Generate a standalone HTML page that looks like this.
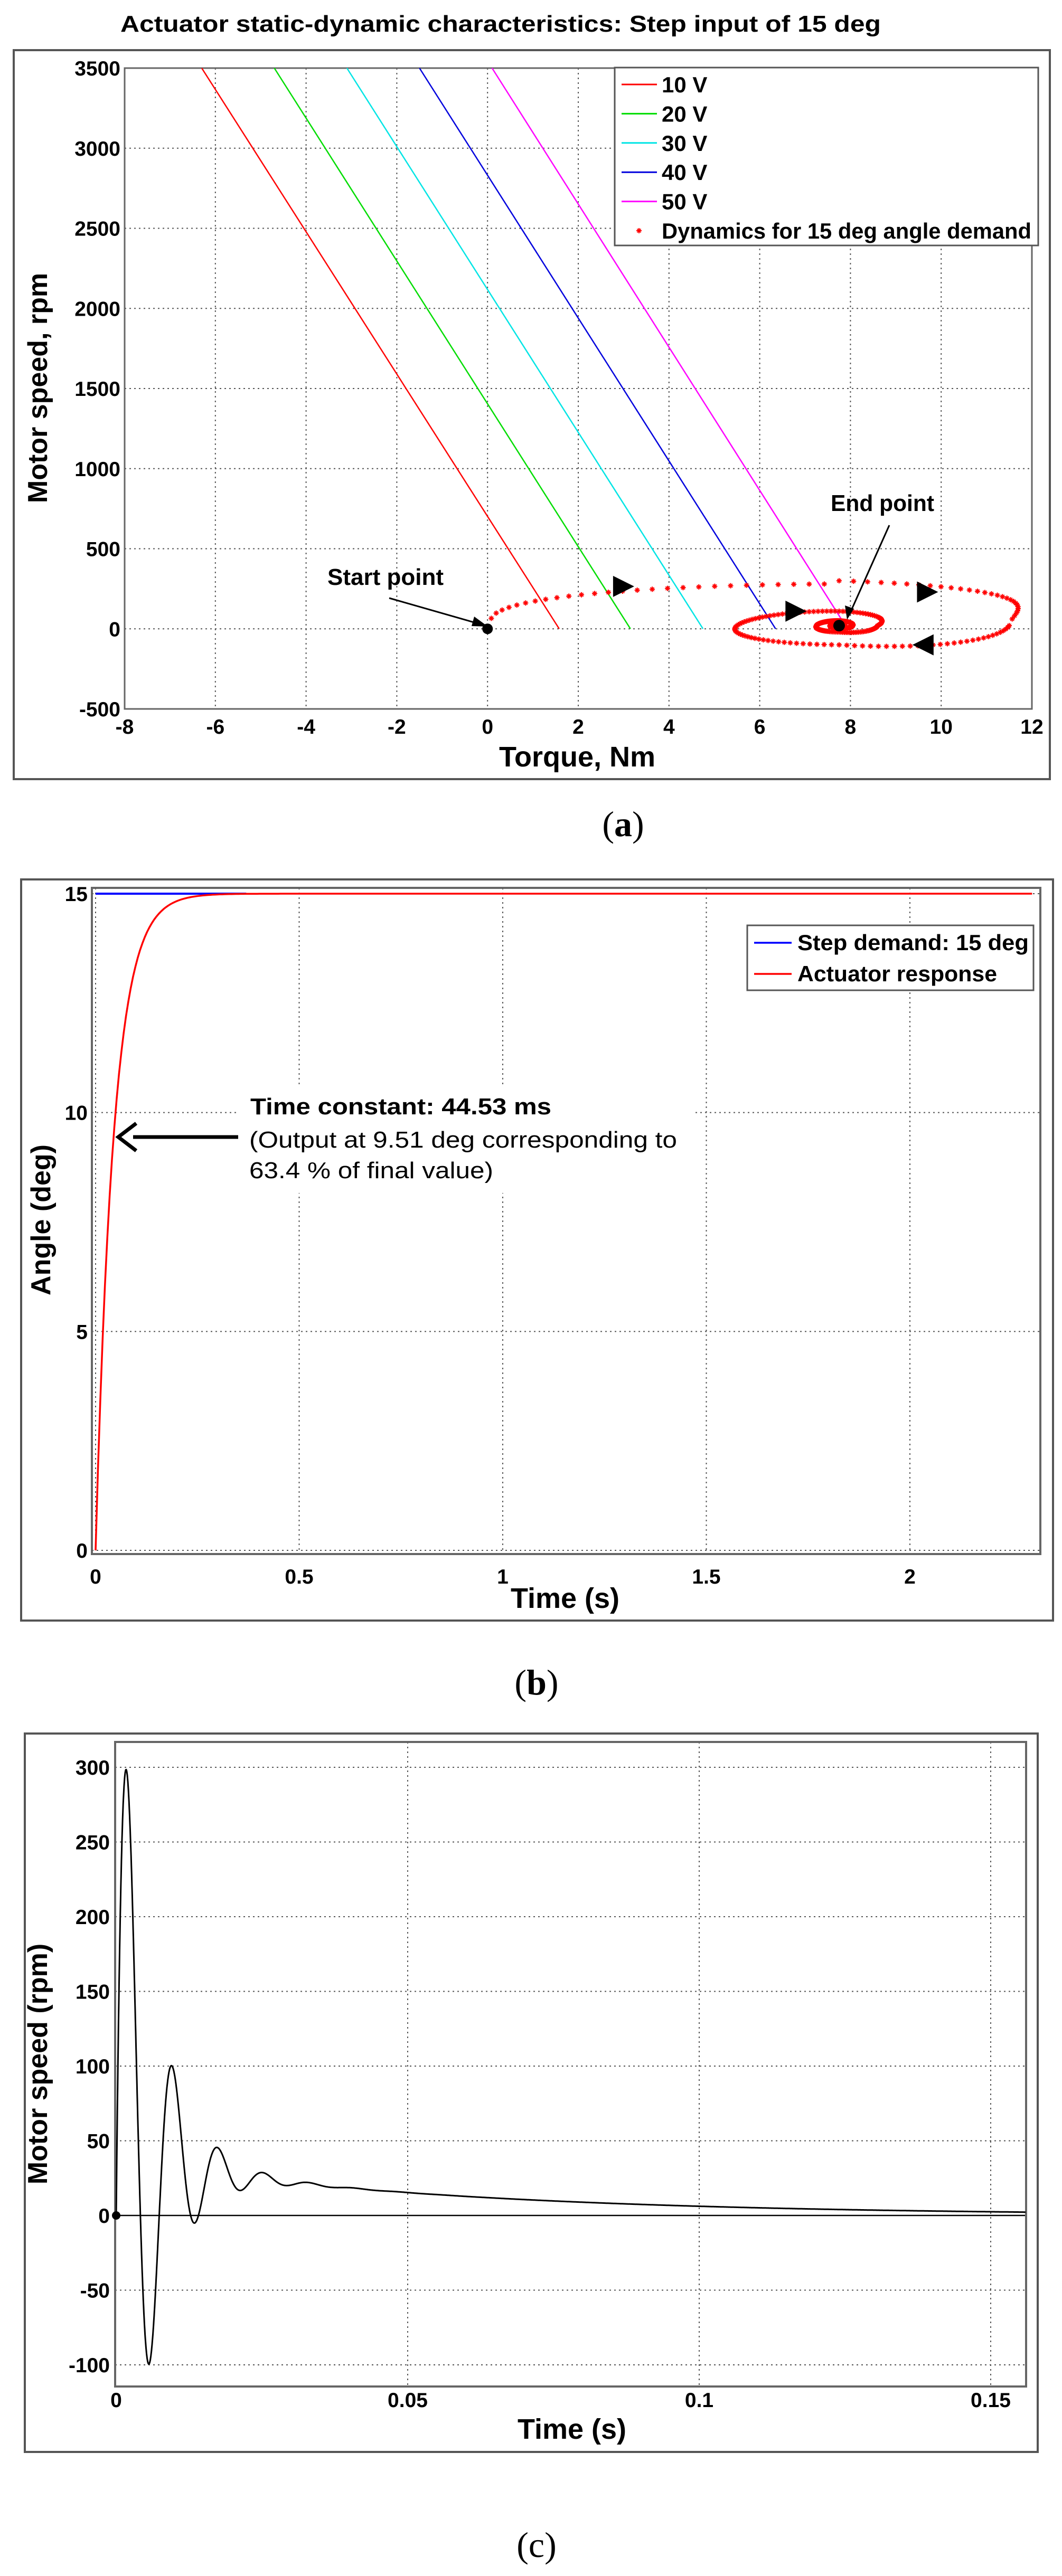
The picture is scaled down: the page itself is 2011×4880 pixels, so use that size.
<!DOCTYPE html>
<html><head><meta charset="utf-8"><style>
html,body{margin:0;padding:0;background:#fff;}
svg{display:block;}
text{font-family:"Liberation Sans",Arial,sans-serif;}
.t{font-weight:bold;font-size:39px;fill:#000;}
.ax{font-weight:bold;font-size:52px;fill:#000;}
.lg{font-weight:bold;font-size:42px;fill:#000;}
.sr{font-family:"Liberation Serif",serif;font-size:68px;fill:#000;}
</style></head><body>
<svg id="s" width="2011" height="4880" viewBox="0 0 2011 4880" xmlns="http://www.w3.org/2000/svg">
<rect width="2011" height="4880" fill="#fff"/>
<g id="g"></g>
</svg>
<script>
var g=document.getElementById('g');var NS='http://www.w3.org/2000/svg';
function el(t,a,txt){var e=document.createElementNS(NS,t);for(var k in a)e.setAttribute(k,a[k]);if(txt!=null)e.textContent=txt;g.appendChild(e);return e;}
function line(x1,y1,x2,y2,st,w,da){var a={x1:x1,y1:y1,x2:x2,y2:y2,stroke:st,'stroke-width':w};if(da)a['stroke-dasharray']=da;return el('line',a);}
function txt(x,y,s,cls,anchor,extra){var a={x:x,y:y,'class':cls,'text-anchor':anchor||'start'};for(var k in extra)a[k]=extra[k];return el('text',a,s);}
function path(pts,st,w){var d='M'+pts.map(function(p){return p[0].toFixed(1)+' '+p[1].toFixed(1)}).join('L');return el('path',{d:d,fill:'none',stroke:st,'stroke-width':w,'stroke-linejoin':'round'});}
function frame(x1,y1,x2,y2){el('rect',{x:x1,y:y1,width:x2-x1,height:y2-y1,fill:'none',stroke:'#555','stroke-width':4});}
var GD='3,6';
/* ================= (a) ================= */
txt(948,60,'Actuator static-dynamic characteristics:  Step input of 15 deg','ax','middle',{style:'font-size:44px',textLength:1440,lengthAdjust:'spacingAndGlyphs'});
frame(26,95,1988,1476);
var L=236,R=1954,T=129,B=1343;
function xa(v){return L+(v+8)*(R-L)/20;} function ya(v){return B-(v+500)*(B-T)/4000;}
for(var v=-8;v<=12;v+=2){var x=xa(v);if(v>-8&&v<12)line(x,T,x,B,'#555',2,GD);txt(x,1390,String(v),'t','middle');}
for(var v=-500;v<=3500;v+=500){var y=ya(v);if(v>-500&&v<3500)line(L,y,R,y,'#555',2,GD);txt(228,y+14,String(v),'t','end');}
el('rect',{x:L,y:T,width:R-L,height:B-T,fill:'none',stroke:'#666','stroke-width':3});
var V=[[-6.3,1.58,'#ff0000'],[-4.7,3.15,'#00dd00'],[-3.1,4.75,'#00e5e5'],[-1.5,6.35,'#0000dd'],[0.1,7.95,'#ff00ff']];
V.forEach(function(v,i){var x2=v[1],y2=0;if(i==4){x2=7.8;y2=60;}line(xa(v[0]),ya(3500),xa(x2),ya(y2),v[2],2.5);});
/* spiral */
var cx=7.75,cy=20;
function star(x,y){var s=5;line(x-s,y,x+s,y,'#f00',2.2);line(x,y-s,x,y+s,'#f00',2.2);line(x-3.5,y-3.5,x+3.5,y+3.5,'#f00',1.8);line(x-3.5,y+3.5,x+3.5,y-3.5,'#f00',1.8);}
var A=[7.75,3.75,2.25,0.85,0.5,0.3,0.2,0.12,0.08,0.05,0.03,0.02];
var BB=[280,120,90,40,30,15,10,6,4,3,2,1];
function interp(arr,k){if(k<=0)return arr[0];var i=Math.floor(k);if(i>=arr.length-1)return arr[arr.length-1];return arr[i]+(arr[i+1]-arr[i])*(k-i);}
var NPH=56;
for(var i=0;i<=NPH*10;i++){var k=i/NPH;var th=Math.PI-k*Math.PI;
 var a=interp(A,k);var b=k<0.5?280:interp(BB,k-0.5);
 var s=Math.sin(th);var c=Math.cos(th);
 var sy=(k<1)?Math.sign(s)*Math.pow(Math.abs(s),0.55):s;
 var xv=cx+a*c,yv=cy+b*sy;
 if(k<0.5){yv=(20+260*Math.pow(Math.abs(s),0.55))*(k<0.02?k/0.02:1);} 
 if(i==0){xv=0;yv=0;}
 star(xa(xv),ya(yv));}
function tri(x,y,dir){var s=20;var p;if(dir=='r')p=[[x+s,y],[x-s,y-s],[x-s,y+s]];else p=[[x-s,y],[x+s,y-s],[x+s,y+s]];el('polygon',{points:p.map(function(q){return q.join(',')}).join(' '),fill:'#000'});}
tri(xa(3.0),ya(265),'r');tri(xa(9.7),ya(230),'r');tri(xa(9.6),ya(-100),'l');tri(xa(6.8),ya(110),'r');
el('circle',{cx:xa(0),cy:ya(0),r:10,fill:'#000'});el('circle',{cx:xa(7.75),cy:ya(20),r:11,fill:'#000'});
txt(620,1108,'Start point','lg','start',{style:'font-size:44px',textLength:220,lengthAdjust:'spacingAndGlyphs'});
line(737,1133,915,1184,'#000',3);el('polygon',{points:'924,1187 898,1168 893,1186',fill:'#000'});
txt(1573,968,'End point','lg','start',{style:'font-size:44px',textLength:196,lengthAdjust:'spacingAndGlyphs'});
line(1684,995,1608,1165,'#000',3);el('polygon',{points:'1604,1174 1600,1147 1617,1153',fill:'#000'});
/* legend a */
el('rect',{x:1164,y:128,width:802,height:337,fill:'#fff',stroke:'#555','stroke-width':3});
var names=['10 V','20 V','30 V','40 V','50 V'];
for(var i=0;i<5;i++){var y=160+i*55.4;line(1177,y,1244,y,V[i][2],3);txt(1253,y+15,names[i],'lg');}
star(1210,437);txt(1253,452,'Dynamics for 15 deg angle demand','lg','start',{textLength:700,lengthAdjust:'spacingAndGlyphs'});
txt(71,735,'Motor speed, rpm','ax','middle',{transform:'rotate(-90 71 735)',dy:'18'});
txt(1093,1452,'Torque, Nm','ax','middle',{style:'font-size:54px'});
el('text',{x:1180,y:1584,'class':'sr','text-anchor':'middle'},'').innerHTML='(<tspan font-weight="bold">a</tspan>)';
/* ================= (b) ================= */
frame(40,1666,1994,3070);
var L2=174,R2=1970,T2=1682,B2=2944;
function xb(v){return 181+v*771;} function yb(v){return 2937-v*(2937-1693)/15;}
[0,0.5,1,1.5,2].forEach(function(v){var x=xb(v);line(x,T2,x,B2,'#555',2,GD);txt(x,3000,String(v),'t','middle');});
[0,5,10,15].forEach(function(v){var y=yb(v);line(L2,y,R2,y,'#555',2,GD);txt(166,y+14,String(v),'t','end');});
el('rect',{x:L2,y:T2,width:R2-L2,height:B2-T2,fill:'none',stroke:'#666','stroke-width':4});
line(xb(0),yb(15),xb(0.37),yb(15),'#0000ff',4);
var p=[[xb(0),yb(0)]];
for(var i=0;i<=400;i++){var t=i*0.00575;var v=15*(1-Math.exp(-t/0.0445));p.push([xb(t),yb(v)]);}
path(p,'#ff0000',3.5);
el('rect',{x:452,y:2060,width:862,height:200,fill:'#fff'});
txt(474,2111,'Time constant: 44.53 ms','lg','start',{style:'font-size:44px',textLength:570,lengthAdjust:'spacingAndGlyphs'});
txt(472,2174,'(Output at 9.51  deg corresponding to','lg','start',{style:'font-size:44px;font-weight:normal',textLength:810,lengthAdjust:'spacingAndGlyphs'});
txt(472,2232,'63.4  % of final value)','lg','start',{style:'font-size:44px;font-weight:normal',textLength:462,lengthAdjust:'spacingAndGlyphs'});
line(252,2154,451,2154,'#000',7);
el('polyline',{points:'258,2128 224,2154 258,2180',fill:'none',stroke:'#000','stroke-width':7});
el('rect',{x:1415,y:1753,width:542,height:123,fill:'#fff',stroke:'#555','stroke-width':3});
line(1428,1786,1499,1786,'#0000ff',3.5);txt(1510,1800,'Step demand: 15 deg','lg','start',{textLength:438,lengthAdjust:'spacingAndGlyphs'});
line(1428,1845,1499,1845,'#ff0000',3.5);txt(1510,1859,'Actuator response','lg','start',{textLength:378,lengthAdjust:'spacingAndGlyphs'});
txt(77,2311,'Angle (deg)','ax','middle',{transform:'rotate(-90 77 2311)',dy:'18'});
txt(1070,3046,'Time (s)','ax','middle',{style:'font-size:54px'});
el('text',{x:1016,y:3210,'class':'sr','text-anchor':'middle'},'').innerHTML='(<tspan font-weight="bold">b</tspan>)';
/* ================= (c) ================= */
frame(47,3284,1965,4645);
var L3=218,R3=1943,T3=3300,B3=4521;
function xc(v){return 220+v*11040;} function yc(v){return 4197-v*2.83;}
[0,0.05,0.1,0.15].forEach(function(v){var x=xc(v);if(v>0)line(x,T3,x,B3,'#555',2,GD);txt(x,4560,String(v),'t','middle');});
for(var v=-100;v<=300;v+=50){var y=yc(v);if(v!=0)line(L3,y,R3,y,'#555',2,GD);txt(208,y+14,String(v),'t','end');}
line(L3,yc(0),R3,yc(0),'#000',2.5);
el('rect',{x:L3,y:T3,width:R3-L3,height:B3-T3,fill:'none',stroke:'#666','stroke-width':4});
var p=[];
for(var i=0;i<=3120;i++){var t=i*0.00005;var base=38*Math.exp(-t/0.055);var Am=263*Math.exp(-(t-0.0018)/0.0058);
 var v=base*(1-Math.exp(-t/0.0004))+Am*Math.sin(2*Math.PI*t/0.0078);p.push([xc(t),yc(v)]);}
path(p,'#000',3);
el('circle',{cx:xc(0),cy:yc(0),r:8,fill:'#000'});
txt(71,3910,'Motor speed (rpm)','ax','middle',{transform:'rotate(-90 71 3910)',dy:'18'});
txt(1083,4620,'Time (s)','ax','middle',{style:'font-size:54px'});
txt(1016,4844,'(c)','sr','middle');
</script>
</body></html>
